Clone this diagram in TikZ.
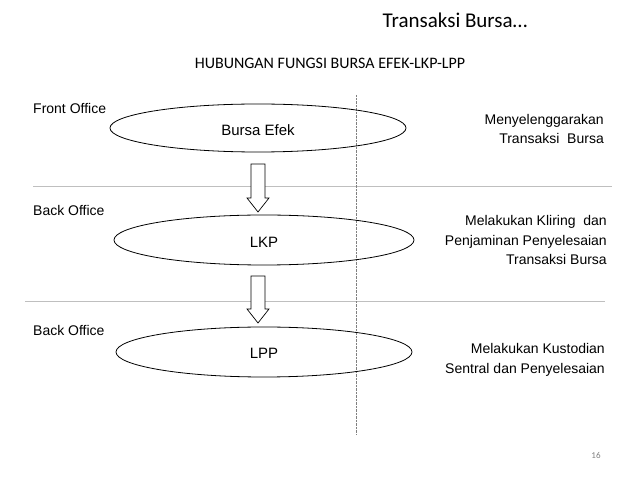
\documentclass[tikz,border=0pt]{standalone}
\usepackage{fontspec}
\setmainfont{Liberation Sans}
\newfontfamily\carlitofont{Carlito}
\begin{document}
\begin{tikzpicture}[x=1pt,y=-1pt,
 ell/.style={draw,line width=0.8pt},
 lab/.style={font=\fontsize{14}{16}\selectfont,anchor=west,inner sep=0pt},
 rlab/.style={font=\fontsize{14}{19.5}\selectfont,align=right,anchor=east,inner sep=0pt},
 barrow/.style={draw,line width=0.7pt,fill=white}]
\useasboundingbox (0,0) rectangle (638,478);
\node[font=\carlitofont\fontsize{21}{24}\selectfont,inner sep=0pt] (title) at (455,20) {Transaksi Bursa…};
\node[font=\carlitofont\fontsize{16}{18}\selectfont,inner sep=0pt] (sub) at (330,63) {HUBUNGAN FUNGSI BURSA EFEK-LKP-LPP};
\draw[gray!50] (33,186) -- (612,186);
\draw[gray!50] (25,301) -- (605,301);
\draw[gray,densely dotted] (356,95) -- (356,435);
\draw[ell] (258,128) ellipse [x radius=148, y radius=24];
\draw[ell] (264,240) ellipse [x radius=150, y radius=25];
\draw[ell] (264,352) ellipse [x radius=148, y radius=25];
\node[lab,anchor=center,font=\fontsize{15}{17}\selectfont] (be) at (258,130) {Bursa Efek};
\node[lab,anchor=center,font=\fontsize{15}{17}\selectfont] (lkp) at (264,242) {LKP};
\node[lab,anchor=center,font=\fontsize{15}{17}\selectfont] (lpp) at (264,353) {LPP};
\node[lab] (fo) at (33,108) {Front Office};
\node[lab] (bo1) at (33,210) {Back Office};
\node[lab] (bo2) at (33,330) {Back Office};
\node[rlab] (r1) at (604,129) {Menyelenggarakan\\Transaksi\ \ Bursa};
\node[rlab] (r2) at (607,240) {Melakukan Kliring\ \ dan\\Penjaminan Penyelesaian\\Transaksi Bursa};
\node[rlab] (r3) at (605,360) {Melakukan Kustodian\\Sentral dan Penyelesaian};
\draw[barrow] (251,164) -- (265,164) -- (265,198) -- (269,198) -- (258,212) -- (247,198) -- (251,198) -- cycle;
\draw[barrow] (251,276) -- (265,276) -- (265,309) -- (269,309) -- (258,323) -- (247,309) -- (251,309) -- cycle;
\node[font=\carlitofont\fontsize{9}{10}\selectfont,text=gray,inner sep=0pt] (pg) at (596,455) {16};
\end{tikzpicture}
\end{document}
